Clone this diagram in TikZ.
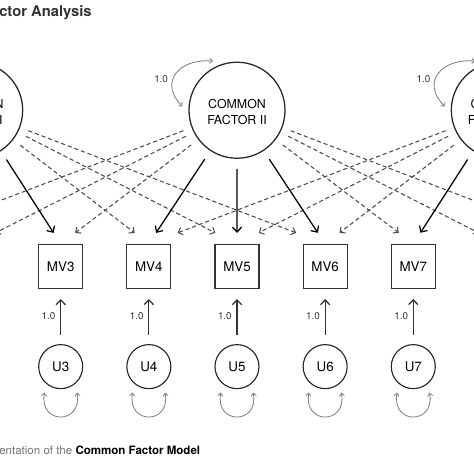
\documentclass[tikz,border=0pt]{standalone}
\usepackage{fontspec}
\setmainfont{TeX Gyre Heros}
\usepackage{xcolor}
\usepackage{tikz}
\usetikzlibrary{matrix, positioning, calc, arrows, arrows.meta}
\tikzset{% styles of the path diagram
	factor/.style={shape=circle, draw=black!85, line width=0.9pt, minimum size=2.4cm, inner sep=0pt, align=center, font=\fontsize{8.8}{11.4}\selectfont},
	mvbox/.style={shape=rectangle, draw=black!80, line width=0.8pt, minimum size=1.1cm, inner sep=0pt, font=\fontsize{9.5}{11}\selectfont},
	uniq/.style={shape=circle, draw=black!85, line width=0.8pt, minimum size=1.1cm, inner sep=0pt, font=\fontsize{9.5}{11}\selectfont},
	solidload/.style={-{Straight Barb[length=3.4pt, width=6.6pt]}, black, line width=0.9pt, shorten <=0.25cm},
	crossload/.style={-{Straight Barb[length=2.8pt, width=5.4pt]}, dash pattern=on 3pt off 2pt, black!70, line width=0.75pt, shorten <=0.22cm},
	errpath/.style={-{Straight Barb[length=3.4pt, width=6.6pt]}, black!80, line width=0.9pt, shorten <=0.22cm, shorten >=0.25cm},
	varloop/.style={{Straight Barb[length=2pt, width=3.6pt]}-{Straight Barb[length=2pt, width=3.6pt]}, black!50, line width=0.6pt},
	lbl/.style={font=\fontsize{7}{8}\selectfont, black!80},
}
\begin{document}
\begin{tikzpicture}[x=0.025cm, y=0.025cm]
\useasboundingbox (0,0) rectangle (474,474);
\matrix[%
	matrix of nodes,
	column sep=1.075cm, row sep=1.375cm,
	row 1/.style={nodes=mvbox},
	row 2/.style={nodes=uniq},
	] (v) at (237,157.5) {%
		MV3 & MV4 & MV5 & MV6 & MV7 \\
		U3 & U4 & U5 & U6 & U7 \\
	};
\node[factor, above=2.125cm of v-1-3] (f2) {\rule{0pt}{9pt}COMMON\\FACTOR II};
\node[factor, left=4.125cm of f2] (f1) {\rule{0pt}{9pt}COMMON\\FACTOR I};
\node[factor, right=4.125cm of f2] (f3) {\rule{0pt}{9pt}COMMON\\FACTOR III};

\node[anchor=west, inner sep=0pt, font=\bfseries\fontsize{10.5}{12}\selectfont, black!80] (title) at (-1,461) {ctor Analysis};
\node[anchor=west, inner sep=0pt, font=\fontsize{8.2}{9}\selectfont] (caption) at (-1,24) {\textcolor{black!55}{entation of the} \textbf{Common Factor Model}};

% arrow tips stop on this line above the boxes
\coordinate (tipa) at ($(v-1-1.north)+(0,11)$);
\coordinate (tipb) at ($(v-1-5.north)+(0,11)$);
% boxes outside the frame
\coordinate (mv1) at ($(v-1-1.north)+(-174,0)$);
\coordinate (mv2) at ($(v-1-1.north)+(-87,0)$);
\coordinate (mv8) at ($(v-1-5.north)+(87,0)$);
\coordinate (mv9) at ($(v-1-5.north)+(174,0)$);

\draw[crossload] (f1) -- (intersection of f1--v-1-2.north and tipa--tipb);
\draw[crossload] (f1) -- (intersection of f1--v-1-3.north and tipa--tipb);
\draw[crossload] (f1) -- (intersection of f1--v-1-4.north and tipa--tipb);
\draw[crossload] (f2) -- (intersection of f2--mv1 and tipa--tipb);
\draw[crossload] (f2) -- (intersection of f2--mv2 and tipa--tipb);
\draw[crossload] (f2) -- (intersection of f2--v-1-1.north and tipa--tipb);
\draw[crossload] (f2) -- (intersection of f2--v-1-5.north and tipa--tipb);
\draw[crossload] (f2) -- (intersection of f2--mv8 and tipa--tipb);
\draw[crossload] (f2) -- (intersection of f2--mv9 and tipa--tipb);
\draw[crossload] (f3) -- (intersection of f3--v-1-2.north and tipa--tipb);
\draw[crossload] (f3) -- (intersection of f3--v-1-3.north and tipa--tipb);
\draw[crossload] (f3) -- (intersection of f3--v-1-4.north and tipa--tipb);

\draw[solidload] (f1) -- (intersection of f1--v-1-1.north and tipa--tipb);
\draw[solidload] (f2) -- (intersection of f2--v-1-2.north and tipa--tipb);
\draw[solidload] (f2) -- (intersection of f2--v-1-3.north and tipa--tipb);
\draw[solidload] (f2) -- (intersection of f2--v-1-4.north and tipa--tipb);
\draw[solidload] (f3) -- (intersection of f3--v-1-5.north and tipa--tipb);

\draw[errpath] (v-2-1) -- node[left, lbl] {1.0} (v-1-1);
\draw[errpath] (v-2-2) -- node[left, lbl] {1.0} (v-1-2);
\draw[errpath] (v-2-3) -- node[left, lbl] {1.0} (v-1-3);
\draw[errpath] (v-2-4) -- node[left, lbl] {1.0} (v-1-4);
\draw[errpath] (v-2-5) -- node[left, lbl] {1.0} (v-1-5);

\draw[varloop] ([shift={(116:6)}]f2.116) to[out=175, in=135, looseness=1.6] node[pos=0.6, left, lbl] {1.0} ([shift={(176:6)}]f2.176);
\draw[varloop] ([shift={(116:6)}]f3.116) to[out=175, in=135, looseness=1.6] node[pos=0.6, left, lbl] {1.0} ([shift={(176:6)}]f3.176);

\draw[varloop] ([shift={(238:8)}]v-2-1.238) to[out=-100, in=-80, looseness=2.6] ([shift={(302:8)}]v-2-1.302);
\draw[varloop] ([shift={(238:8)}]v-2-2.238) to[out=-100, in=-80, looseness=2.6] ([shift={(302:8)}]v-2-2.302);
\draw[varloop] ([shift={(238:8)}]v-2-3.238) to[out=-100, in=-80, looseness=2.6] ([shift={(302:8)}]v-2-3.302);
\draw[varloop] ([shift={(238:8)}]v-2-4.238) to[out=-100, in=-80, looseness=2.6] ([shift={(302:8)}]v-2-4.302);
\draw[varloop] ([shift={(238:8)}]v-2-5.238) to[out=-100, in=-80, looseness=2.6] ([shift={(302:8)}]v-2-5.302);
\end{tikzpicture}
\end{document}
